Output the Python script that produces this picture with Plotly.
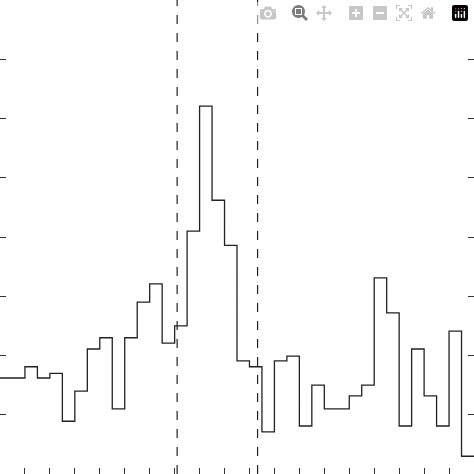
import plotly.graph_objects as go

counts = [1.62, 1.62, 1.81, 1.62, 1.70, 0.89, 1.40, 2.11, 2.30, 1.10, 2.30, 2.90, 3.21,
          2.21, 2.50, 4.10, 6.21, 4.62, 3.86, 1.91, 1.81, 0.71, 1.91, 1.99, 0.81, 1.50,
          1.10, 1.10, 1.32, 1.50, 3.31, 2.72, 0.81, 2.11, 1.32, 0.81, 2.41, 0.30]
edges = list(range(len(counts) + 1))
vlines = [14.2, 20.65]

fig = go.Figure()
fig.add_trace(go.Scatter(x=edges, y=counts + [counts[-1]], mode="lines", line_shape="hv",
                         line=dict(color="#222", width=1.3), showlegend=False))
for v in vlines:
    fig.add_vline(x=v, line=dict(color="#222", width=1.2, dash="dash"))

axis = dict(showgrid=False, zeroline=False, showticklabels=False, ticks="inside",
            ticklen=6, tickcolor="#333", showline=False)
fig.update_xaxes(range=[0, 38], dtick=2, **axis)
fig.update_yaxes(range=[0, 8], dtick=1, mirror="ticks", **axis)
fig.update_layout(width=474, height=474, margin=dict(l=0, r=0, t=0, b=0),
                  plot_bgcolor="white", paper_bgcolor="white")
fig.write_html("out.html", post_script="document.body.style.margin='0';")
